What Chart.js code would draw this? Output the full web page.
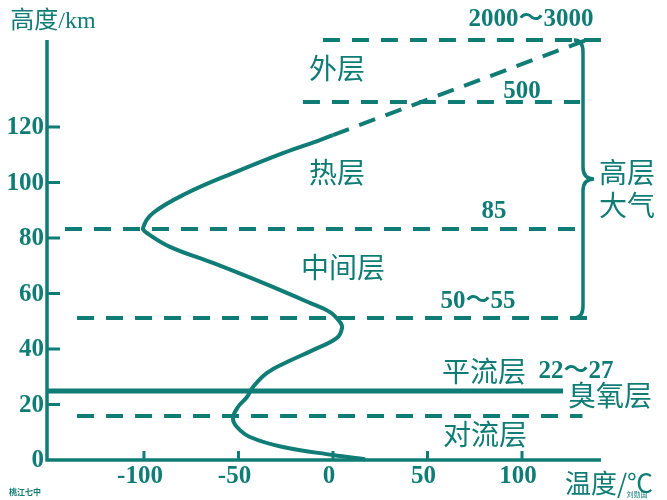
<!DOCTYPE html>
<html>
<head>
<meta charset="utf-8">
<script src="https://cdn.jsdelivr.net/npm/chart.js@4"></script>
<style>
body { margin: 0; background: #fff; }
#wrap { width: 667px; height: 500px; }
</style>
</head>
<body>
<div id="wrap"><canvas id="myChart"></canvas></div>
<script>
let teal = '#0f7c76';

// temperature profile (°C) against altitude (km)
let curveTemp = [17, 0, -26.5, -43.9, -50.8, -52.9, -50.3, -45.5, -42.3, -34.9, -24.3, -10.6, 2.1, 4.8, 3.7, -1.6, -12.2, -37, -63.5, -86.2, -98.4, -100.5, -95.2, -77.2, -52.9, -26.5, -6.9, 0];
let curveAlt = [0.3, 1.8, 4.7, 8.3, 11.9, 15.1, 19.1, 22.7, 26.3, 31.4, 35.3, 39.6, 44, 47.6, 49.7, 53.3, 56.6, 63.8, 71, 76.8, 81.8, 83.6, 89.0, 96.2, 103.4, 110.6, 115.3, 117.1];

// dashed continuation above the thermosphere
let dashTemp = [0, 134];
let dashAlt = [117.1, 151.35];

// layer boundaries: altitude, start and end temperature
let lineAlt = [15.9, 24.9, 51.2, 83.2, 129, 151.35];
let lineFrom = [-135.4, -151.3, -135.4, -141.8, -15.9, -5.3];
let lineTo = [132, 121.7, 136, 130.7, 130.7, 141.8];
let lineSolid = [false, true, false, false, false, false];

let yTicks = [0, 20, 40, 60, 80, 100, 120];
let xTicks = [-100, -50, 0, 50, 100];

let datasets = [];
datasets.push({
    data: curveTemp.map((t, i) => ({ x: t, y: curveAlt[i] })),
    borderColor: teal,
    borderWidth: 4,
    tension: 0.4,
    pointRadius: 0,
    showLine: true,
    clip: false
});
datasets.push({
    data: dashTemp.map((t, i) => ({ x: t, y: dashAlt[i] })),
    borderColor: teal,
    borderWidth: 4,
    borderDash: [17, 11],
    pointRadius: 0,
    showLine: true,
    clip: false
});
lineAlt.forEach((a, i) => {
    datasets.push({
        data: [{ x: lineFrom[i], y: a }, { x: lineTo[i], y: a }],
        borderColor: teal,
        borderWidth: lineSolid[i] ? 5 : 4,
        borderDash: lineSolid[i] ? [] : [17, 12],
        pointRadius: 0,
        showLine: true,
        clip: false
    });
});

let numFont = 'bold 25px "Liberation Serif", "Noto Sans CJK SC"';
let cjkFont = '28px "Noto Sans CJK SC"';

// axes, ticks, brace and annotations
let decor = {
    id: 'decor',
    afterDatasetsDraw(chart) {
        let ctx = chart.ctx;
        let xs = chart.scales.x, ys = chart.scales.y;
        let x0 = xs.left, y0 = ys.getPixelForValue(0);
        ctx.save();
        ctx.strokeStyle = teal;
        ctx.fillStyle = teal;
        ctx.lineCap = 'butt';

        // axes
        ctx.lineWidth = 3.5;
        ctx.beginPath();
        ctx.moveTo(x0, ys.top);
        ctx.lineTo(x0, y0);
        ctx.lineTo(xs.right, y0);
        ctx.stroke();

        // y ticks
        ctx.lineWidth = 3;
        ctx.font = numFont;
        ctx.textAlign = 'right';
        ctx.textBaseline = 'middle';
        yTicks.forEach(v => {
            let py = ys.getPixelForValue(v);
            if (v !== 0) {
                ctx.beginPath();
                ctx.moveTo(x0, py);
                ctx.lineTo(x0 + 13, py);
                ctx.stroke();
            }
            ctx.fillText(String(v), x0 - 3, py + 1);
        });

        // x ticks
        ctx.textAlign = 'center';
        ctx.textBaseline = 'alphabetic';
        xTicks.forEach(v => {
            let px = xs.getPixelForValue(v);
            ctx.beginPath();
            ctx.moveTo(px, y0);
            ctx.lineTo(px, y0 - 9);
            ctx.stroke();
            ctx.fillText(String(v), px - 4, y0 + 23);
        });

        // brace for upper atmosphere
        let bt = ys.getPixelForValue(151.35);
        let bb = ys.getPixelForValue(51.2);
        let bm = (bt + bb) / 2;
        let bx = 583;
        ctx.lineWidth = 3.5;
        ctx.beginPath();
        ctx.moveTo(bx - 9, bt);
        ctx.quadraticCurveTo(bx, bt, bx, bt + 12);
        ctx.lineTo(bx, bm - 12);
        ctx.quadraticCurveTo(bx, bm, bx + 11, bm);
        ctx.quadraticCurveTo(bx, bm, bx, bm + 12);
        ctx.lineTo(bx, bb - 12);
        ctx.quadraticCurveTo(bx, bb, bx - 9, bb);
        ctx.stroke();

        // annotations
        let texts = [
            ['高度/km', 53, 22, '24px "Liberation Serif", "Noto Sans CJK SC"'],
            ['2000～3000', 531, 20, numFont],
            ['外层', 337, 68, cjkFont],
            ['500', 522, 92, numFont],
            ['热层', 337, 172, cjkFont],
            ['85', 494, 212, numFont],
            ['中间层', 343, 267, cjkFont],
            ['50～55', 478, 302, numFont],
            ['平流层', 484, 371, cjkFont],
            ['22～27', 576, 372, numFont],
            ['臭氧层', 610, 395, cjkFont],
            ['对流层', 485, 434, cjkFont],
            ['高层', 627, 172, cjkFont],
            ['大气', 627, 205, cjkFont],
            ['温度/℃', 609, 483, '26px "Noto Sans CJK SC"'],
            ['桃江七中', 25, 492, 'bold 8px "Noto Sans CJK SC"'],
            ['刘勋国', 637, 494, '7px "Noto Sans CJK SC"']
        ];
        ctx.textAlign = 'center';
        ctx.textBaseline = 'middle';
        texts.forEach(t => {
            ctx.font = t[3];
            ctx.fillText(t[0], t[1], t[2]);
        });
        ctx.restore();
    }
};

let myChart = new Chart(document.getElementById('myChart').getContext('2d'), {
    type: 'scatter',
    data: { datasets: datasets },
    options: {
        responsive: true,
        maintainAspectRatio: false,
        animation: false,
        layout: { padding: { left: 47, right: 66, top: 40, bottom: 40 } },
        scales: {
            x: { type: 'linear', min: -151.3, max: 141.8, display: false },
            y: { type: 'linear', min: 0, max: 151.35, display: false }
        },
        plugins: {
            legend: { display: false },
            tooltip: { enabled: false }
        }
    },
    plugins: [decor]
});
</script>
</body>
</html>
